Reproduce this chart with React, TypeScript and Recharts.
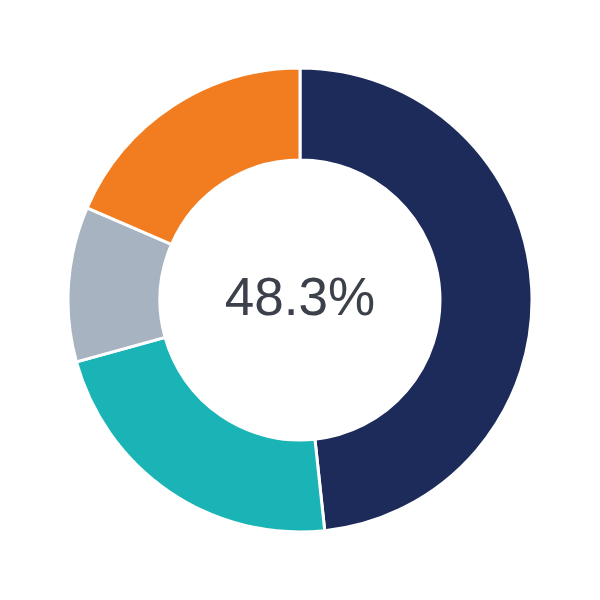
import { Cell, Pie, PieChart } from "recharts";

const segmentNames = ["Navy", "Teal", "Gray", "Orange"];
const segmentValues = [48.3, 22.4, 10.8, 18.5];
const segmentColors = ["#1c2b5a", "#1bb4b6", "#a8b3c2", "#f27d21"];
const centerLabel = "48.3%";

const data = segmentNames.map((name, i) => ({
  name,
  value: segmentValues[i],
  color: segmentColors[i]
}));

export default function App() {
  return (
    <div style={{ position: "absolute", top: 0, left: 0, width: 600, height: 600, background: "#fff" }}>
      <PieChart width={600} height={600} margin={{ top: 0, right: 0, bottom: 0, left: 0 }}>
        <Pie
          data={data}
          dataKey="value"
          nameKey="name"
          cx={300}
          cy={300}
          innerRadius={140}
          outerRadius={232}
          startAngle={90}
          endAngle={-270}
          stroke="#ffffff"
          strokeWidth={3}
          isAnimationActive={false}
        >
          {data.map((item) => (
            <Cell key={item.name} fill={item.color} />
          ))}
        </Pie>
        <text
          x={300}
          y={296}
          textAnchor="middle"
          dominantBaseline="central"
          fontFamily="'Liberation Sans', Arial, sans-serif"
          fontSize={53}
          fill="#3b404a"
        >
          {centerLabel}
        </text>
      </PieChart>
    </div>
  );
}
